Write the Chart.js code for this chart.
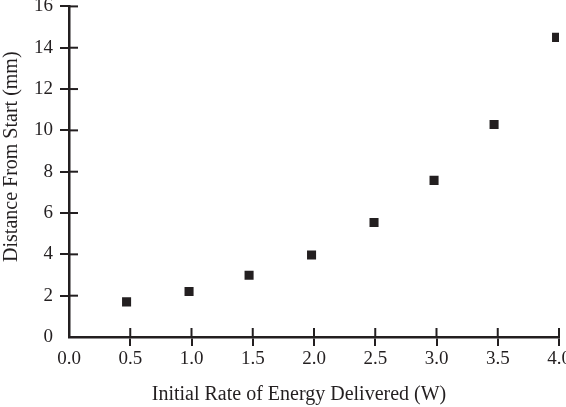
<!DOCTYPE html>
<html>
<head>
<meta charset="utf-8">
<script src="https://cdn.jsdelivr.net/npm/chart.js@4/dist/chart.umd.min.js"></script>
<style>
  html, body { margin: 0; padding: 0; background: #fff; }
  #wrap { width: 566px; height: 407px; }
</style>
</head>
<body>
<div id="wrap"><canvas id="chart" width="566" height="407"></canvas></div>
<script>
// Données
const puissance = [0.47, 0.98, 1.47, 1.98, 2.49, 2.98, 3.47, 3.98];
const distance = [1.70, 2.20, 2.99, 3.97, 5.54, 7.58, 10.28, 14.5];
const ticksX = [0, 0.5, 1, 1.5, 2, 2.5, 3, 3.5, 4];
const ticksY = [0, 2, 4, 6, 8, 10, 12, 14, 16];

const encre = '#231f20';
const police = 'Liberation Serif, Times New Roman, serif';
const nbsp = n => '\u00a0'.repeat(n);

// petits traits de graduation qui traversent l'axe (partie intérieure)
const graduations = {
    id: 'graduations',
    afterDraw(chart) {
        const ctx = chart.ctx;
        const sx = chart.scales.x, sy = chart.scales.y;
        ctx.save();
        ctx.strokeStyle = encre;
        ctx.lineWidth = 2;
        sx.ticks.forEach((t, i) => {
            if (i === 0) return;
            const px = sx.getPixelForTick(i);
            ctx.beginPath();
            ctx.moveTo(px, sx.top);
            ctx.lineTo(px, sx.top - 9);
            ctx.stroke();
        });
        sy.ticks.forEach((t, i) => {
            if (i === 0) return;
            const py = sy.getPixelForTick(i);
            ctx.beginPath();
            ctx.moveTo(sy.right, py);
            ctx.lineTo(sy.right + 9, py);
            ctx.stroke();
        });
        ctx.restore();
    }
};

const ctx = document.getElementById('chart').getContext('2d');
const chart = new Chart(ctx, {
    type: 'scatter',
    data: {
        datasets: [{
            data: puissance.map((p, i) => ({ x: p, y: distance[i] })),
            pointStyle: 'rect',
            pointRadius: 6.4,
            backgroundColor: encre,
            borderColor: encre,
            borderWidth: 0
        }]
    },
    options: {
        responsive: false,
        animation: false,
        layout: { padding: { top: 6, right: 7, left: 0, bottom: 0 } },
        plugins: {
            legend: { display: false },
            tooltip: { enabled: false }
        },
        scales: {
            x: {
                type: 'linear',
                min: 0,
                max: 4,
                afterBuildTicks: s => { s.ticks = ticksX.map(v => ({ value: v })); },
                afterFit: s => { s.height = 70; s.paddingLeft = 0; s.paddingRight = 0; },
                border: { display: true, color: encre, width: 2.5 },
                grid: {
                    drawOnChartArea: false,
                    tickLength: 9,
                    lineWidth: 2,
                    color: c => c.index === 0 ? 'rgba(0,0,0,0)' : encre
                },
                ticks: {
                    color: encre,
                    padding: 2,
                    maxRotation: 0,
                    font: { family: police, size: 19 },
                    callback: v => Number(v).toFixed(1)
                },
                title: {
                    display: true,
                    // espaces insécables : décale le titre vers la gauche comme dans l'original
                    text: 'Initial Rate of Energy Delivered (W)' + nbsp(6),
                    color: encre,
                    padding: { top: 0, bottom: 0 },
                    font: { family: police, size: 20 }
                }
            },
            y: {
                type: 'linear',
                min: 0,
                max: 16,
                afterBuildTicks: s => { s.ticks = ticksY.map(v => ({ value: v })); },
                afterFit: s => { s.width = 69; s.paddingTop = 0; s.paddingBottom = 0; },
                border: { display: true, color: encre, width: 2.5 },
                grid: {
                    drawOnChartArea: false,
                    tickLength: 9,
                    lineWidth: 2,
                    color: c => c.index === 0 ? 'rgba(0,0,0,0)' : encre
                },
                ticks: {
                    color: encre,
                    padding: 7,
                    font: { family: police, size: 19 }
                },
                title: {
                    display: true,
                    text: nbsp(6) + 'Distance From Start (mm)',
                    color: encre,
                    padding: { top: 0, bottom: 0 },
                    font: { family: police, size: 20 }
                }
            }
        }
    },
    plugins: [graduations]
});
</script>
</body>
</html>
